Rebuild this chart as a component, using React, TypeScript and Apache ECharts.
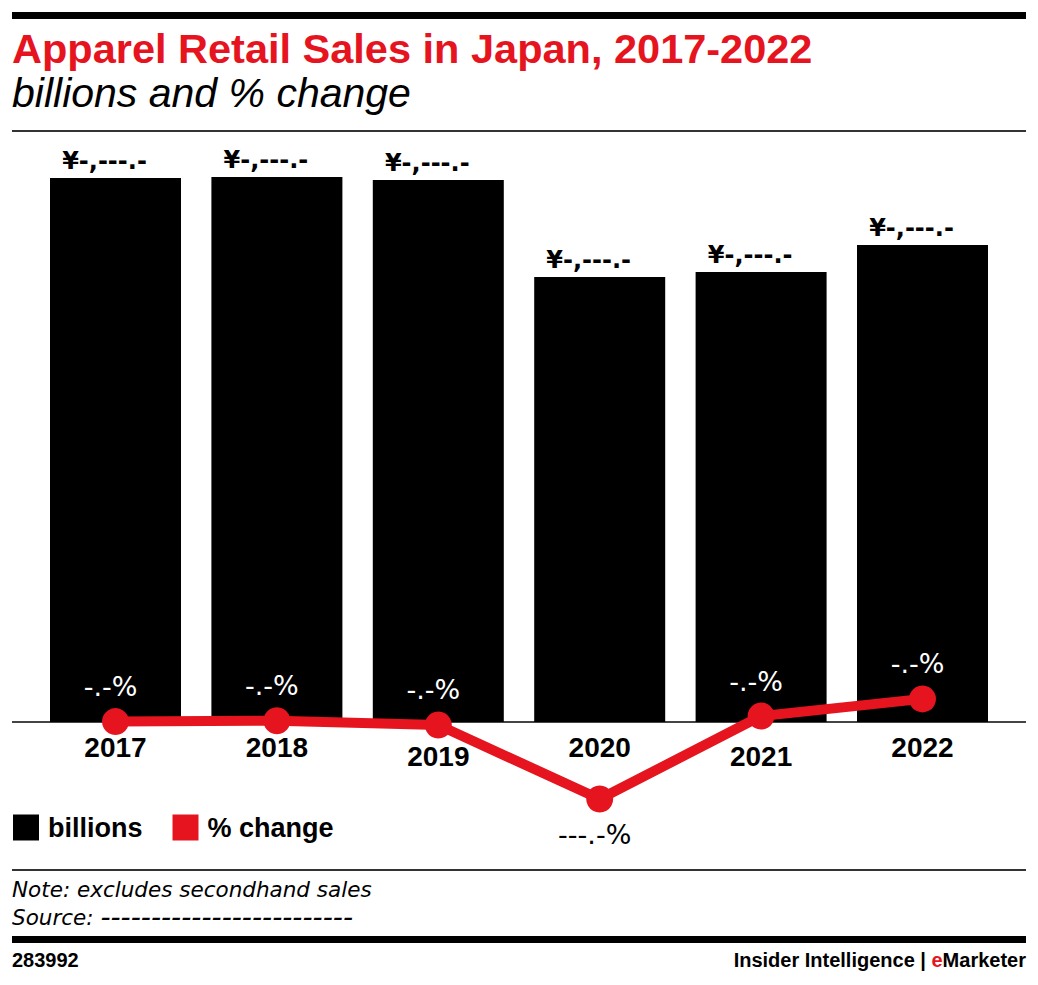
import React, { useEffect, useRef } from "react";
import * as echarts from "echarts";

const categories = ["2017", "2018", "2019", "2020", "2021", "2022"];
const salesBillions = [9220, 9237, 9186, 7542, 7627, 8085];
const salesLabels = ["¥-,---.-", "¥-,---.-", "¥-,---.-", "¥-,---.-", "¥-,---.-", "¥-,---.-"];
const pctChange = [0.1, 0.3, -0.7, -18.0, 1.4, 5.4];
const pctLabels = ["-.-%", "-.-%", "-.-%", "---.-%", "-.-%", "-.-%"];
const loweredTicks = ["2019", "2021"];

const RED = "#E5141E";
const SANS = "'Liberation Sans', Arial, sans-serif";
const DEJA = "'DejaVu Sans', sans-serif";

export default function App() {
  const ref = useRef<HTMLDivElement>(null);
  useEffect(() => {
    if (!ref.current) return;
    const chart = echarts.init(ref.current, null, { renderer: "svg" });
    const gridLeft = 34.8;
    const option: any = {
      animation: false,
      backgroundColor: "#fff",
      grid: [
        { left: gridLeft, right: gridLeft, top: 132, height: 590 },
        { left: gridLeft, right: gridLeft, top: 208.4, height: 599.2 },
      ],
      xAxis: [
        {
          type: "category",
          gridIndex: 0,
          data: categories,
          axisLine: { show: false },
          axisTick: { show: false },
          axisLabel: {
            margin: 11,
            formatter: (v: string) => (loweredTicks.includes(v) ? `{b|${v}}` : `{a|${v}}`),
            rich: {
              a: { fontFamily: SANS, fontSize: 28, fontWeight: "bold", color: "#000", lineHeight: 28 },
              b: { fontFamily: SANS, fontSize: 28, fontWeight: "bold", color: "#000", lineHeight: 46 },
            },
          },
        },
        { type: "category", gridIndex: 1, data: categories, show: false },
      ],
      yAxis: [
        { type: "value", gridIndex: 0, min: 0, max: 10000, show: false },
        { type: "value", gridIndex: 1, min: -20, max: 120, show: false },
      ],
      legend: {
        left: 13,
        top: 814,
        padding: 0,
        itemWidth: 26,
        itemHeight: 26,
        itemGap: 30,
        selectedMode: false,
        textStyle: { fontFamily: SANS, fontSize: 27, fontWeight: "bold", color: "#000", padding: [0, 0, 0, 4] },
        data: [
          { name: "billions", icon: "rect", itemStyle: { color: "#000" } },
          { name: "% change", icon: "rect", itemStyle: { color: RED } },
        ],
      },
      series: [
        {
          type: "bar",
          name: "billions",
          xAxisIndex: 0,
          yAxisIndex: 0,
          data: salesBillions,
          barWidth: 131,
          itemStyle: { color: "#000" },
          label: {
            show: true,
            position: "top",
            distance: 5,
            offset: [-11, 0],
            formatter: (p: any) => salesLabels[p.dataIndex],
            fontFamily: DEJA,
            fontWeight: "bold",
            fontSize: 24,
            color: "#000",
          },
          z: 2,
        },
        {
          type: "line",
          name: "% change",
          xAxisIndex: 1,
          yAxisIndex: 1,
          data: pctChange.map((v) => ({
            value: v,
            label: { position: v < -5 ? "bottom" : "top", color: v < -5 ? "#000" : "#fff" },
          })),
          symbol: "circle",
          symbolSize: 27,
          lineStyle: { color: RED, width: 10 },
          itemStyle: { color: RED, borderWidth: 0 },
          label: {
            show: true,
            distance: 8,
            offset: [-5, 0],
            formatter: (p: any) => pctLabels[p.dataIndex],
            fontFamily: DEJA,
            fontSize: 27,
          },
          z: 5,
        },
      ],
      graphic: [
        { type: "rect", shape: { x: 12, y: 12, width: 1014, height: 7 }, style: { fill: "#000" }, silent: true },
        {
          type: "text",
          x: 12,
          y: 48,
          style: {
            text: "Apparel Retail Sales in Japan, 2017-2022",
            fill: RED,
            font: `bold 41.5px ${SANS}`,
            verticalAlign: "middle",
          },
        },
        {
          type: "text",
          x: 12,
          y: 93,
          style: {
            text: "billions and % change",
            fill: "#000",
            font: `italic 41px ${SANS}`,
            verticalAlign: "middle",
          },
        },
        { type: "rect", shape: { x: 12, y: 130, width: 1014, height: 2 }, style: { fill: "#333" }, silent: true },
        { type: "rect", shape: { x: 12, y: 721, width: 1014, height: 2 }, style: { fill: "#444" }, silent: true, z: 0 },
        { type: "rect", shape: { x: 12, y: 869, width: 1014, height: 2 }, style: { fill: "#333" }, silent: true },
        {
          type: "text",
          x: 12,
          y: 889,
          style: {
            text: "Note: excludes secondhand sales",
            fill: "#000",
            font: `oblique 21.5px ${DEJA}`,
            verticalAlign: "middle",
          },
        },
        {
          type: "text",
          x: 12,
          y: 917,
          style: {
            text: "{a|Source: }{d|-------------------------}",
            verticalAlign: "middle",
            rich: {
              a: { fontFamily: DEJA, fontStyle: "oblique", fontSize: 21.5, fill: "#000", color: "#000" },
              d: { fontFamily: DEJA, fontStyle: "oblique", fontSize: 28, fill: "#000", color: "#000" },
            },
          },
        },
        { type: "rect", shape: { x: 12, y: 936, width: 1014, height: 7 }, style: { fill: "#000" }, silent: true },
        {
          type: "text",
          x: 12,
          y: 960,
          style: { text: "283992", fill: "#000", font: `bold 20px ${SANS}`, verticalAlign: "middle" },
        },
        {
          type: "text",
          x: 1026,
          y: 960,
          style: {
            text: "{a|Insider Intelligence | }{r|e}{a|Marketer}",
            align: "right",
            verticalAlign: "middle",
            rich: {
              a: { fontFamily: SANS, fontSize: 20, fontWeight: "bold", fill: "#000", color: "#000" },
              r: { fontFamily: SANS, fontSize: 20, fontWeight: "bold", fill: RED, color: RED },
            },
          },
        },
      ],
    };
    chart.setOption(option);
    return () => chart.dispose();
  }, []);
  return (
    <div
      ref={ref}
      style={{ position: "absolute", left: 0, top: 0, width: 1038, height: 985, background: "#fff" }}
    />
  );
}
